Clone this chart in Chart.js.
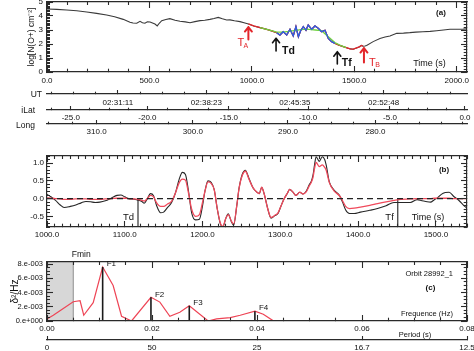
<!DOCTYPE html>
<html><head><meta charset="utf-8">
<script src="https://cdn.jsdelivr.net/npm/chart.js@4.4.1/dist/chart.umd.min.js"></script>
<style>
html,body{margin:0;padding:0;background:#fff;}
#wrap{position:relative;width:474px;height:351px;overflow:hidden;background:#fff;}
canvas{position:absolute;left:0;}
</style></head><body>
<div id="wrap">
<canvas id="ca" width="474" height="150" style="top:0px"></canvas>
<canvas id="cb" width="474" height="95" style="top:150px"></canvas>
<canvas id="cc" width="474" height="106" style="top:245px"></canvas>
</div>
<script>
// ---------------- Panel (a) data ----------------
const timeA = [0,48,96,145,194,242,291,330,372,405,420,438,454,466,478,490,503,515,527,538,549,560,580,600,625,649,675,698,722,747,770,795,815,836,856,877,893,915,942,962,983,1009,1040,1072,1100,1121,1137,1153,1170,1186,1202,1215,1227,1238,1251,1264,1275,1292,1308,1324,1340,1357,1373,1389,1405,1425,1445,1465,1480,1495,1511,1525,1535,1543,1552,1560,1592,1625,1650,1674,1707,1740,1771,1800,1835,1870,1902,1935,1967,2000,2031,2050];
const logNA = [4.50,4.47,4.43,4.37,4.29,4.19,4.07,3.95,3.76,3.55,3.50,3.48,3.62,3.52,3.48,3.58,3.57,3.50,3.43,3.29,3.50,3.67,3.75,3.81,3.70,3.62,3.58,3.52,3.60,3.67,3.70,3.76,3.82,3.90,3.80,3.71,3.72,3.66,3.60,3.52,3.43,3.29,3.17,3.05,2.92,2.81,2.64,2.88,2.64,3.05,2.57,3.24,2.52,2.95,3.24,2.98,3.36,3.05,3.29,3.12,2.88,2.98,2.40,2.17,2.05,1.92,1.82,1.72,1.65,1.63,1.72,1.80,1.90,1.84,1.86,1.90,2.17,2.40,2.50,2.57,2.76,2.78,2.81,2.85,2.88,2.90,2.95,3.00,3.05,3.05,3.06,3.08];
const smoothTimeA = [1040,1072,1100,1121,1150,1180,1215,1250,1280,1310,1340,1373,1405,1438,1460];
const smoothLogNA = [3.17,3.05,2.93,2.85,2.85,2.90,2.97,3.05,3.05,3.00,2.95,2.52,2.10,1.86,1.74];
const eventNamesA = ['T','Td','Tf','T'];
const eventSubsA = ['A','','','B'];
const eventTimesA = [983,1118,1417,1547];
const arrowTipA = [3.21,2.41,1.45,1.71];
const arrowBaseA = [2.32,1.50,0.57,0.68];
const timeTicksA = [0,500,1000,1500,2000];
const timeTickLabelsA = ['0.0','500.0','1000.0','1500.0','2000.0'];
const logTicksA = [0,1,2,3,4,5];
const logTickLabelsA = ['0','1','2','3','4','5'];
const utTickTimes = [346,778,1210,1643];
const utTickLabels = ['02:31:11','02:38:23','02:45:35','02:52:48'];
const ilatTickTimes = [116,490,888,1274,1674,2040];
const ilatTickLabels = ['-25.0','-20.0','-15.0','-10.0','-5.0','0.0'];
const longTickTimes = [242,712,1176,1603];
const longTickLabels = ['310.0','300.0','290.0','280.0'];

// ---------------- Panel (b) data ----------------
const timeB = [1000,1005,1011,1017,1022,1030,1037,1044,1050,1056,1062,1068,1075,1083,1090,1095,1100,1105,1112,1118,1122,1125,1129,1133,1137,1141,1146,1150,1155,1160,1165,1170,1174,1178,1182,1186,1191,1196,1200,1203,1207,1211,1215,1219,1223,1226,1230,1233,1237,1240,1244,1247,1251,1255,1260,1265,1270,1273,1276,1279,1284,1288,1293,1297,1301,1305,1309,1312,1316,1320,1325,1329,1333,1337,1340,1342,1344,1346,1350,1354,1357,1359,1363,1369,1376,1380,1384,1389,1395,1403,1415,1425,1436,1446,1455,1467,1476,1482,1487,1493,1498,1502,1507,1512,1517,1523,1530,1536,1540];
const blackB = [0.12,0.05,-0.05,-0.18,-0.25,-0.22,-0.18,-0.12,-0.08,-0.09,-0.11,-0.10,-0.06,0.02,0.09,0.10,0.05,0.00,-0.02,-0.05,-0.08,-0.13,0.00,0.14,0.08,-0.20,-0.40,-0.38,-0.25,-0.12,0.15,0.55,0.74,0.68,0.20,-0.40,-0.60,-0.58,-0.20,0.20,0.50,0.46,0.25,-0.30,-0.72,-0.80,-0.55,-0.43,-0.65,-0.75,-0.20,0.30,0.68,0.80,0.55,0.30,0.18,0.14,0.32,0.15,-0.30,-0.55,-0.48,-0.42,-0.20,0.00,0.15,0.26,0.19,0.09,0.18,0.13,0.20,0.38,0.50,0.66,0.95,1.18,1.05,1.18,1.10,0.94,0.47,0.24,0.09,-0.10,-0.32,-0.42,-0.42,-0.38,-0.33,-0.28,-0.20,-0.11,-0.11,-0.11,-0.03,-0.06,-0.08,-0.10,-0.03,0.02,0.12,0.17,0.18,0.06,-0.06,-0.20,-0.27];
const redB = [0.02,0.01,0.00,-0.01,-0.02,-0.02,-0.01,-0.01,-0.01,-0.02,-0.02,-0.02,-0.01,0.00,0.01,0.01,0.01,0.00,-0.01,-0.03,-0.05,-0.07,0.00,0.09,0.05,-0.12,-0.22,-0.22,-0.15,-0.08,0.15,0.45,0.55,0.52,0.15,-0.30,-0.50,-0.45,-0.10,0.20,0.47,0.43,0.25,-0.30,-0.70,-0.78,-0.55,-0.45,-0.63,-0.72,-0.20,0.30,0.65,0.77,0.53,0.30,0.18,0.14,0.32,0.15,-0.30,-0.53,-0.47,-0.40,-0.20,0.00,0.15,0.26,0.19,0.09,0.18,0.13,0.18,0.35,0.47,0.60,0.85,1.02,0.90,0.95,0.88,0.80,0.45,0.22,0.08,-0.06,-0.22,-0.28,-0.27,-0.24,-0.19,-0.14,-0.09,-0.05,-0.02,-0.01,0.00,0.00,0.00,0.00,0.01,0.01,0.01,0.01,0.01,0.00,0.00,0.00,0.00];
const markNamesB = ['Td','Tf'];
const markTimesB = [1117,1451];
const timeTicksB = [1000,1100,1200,1300,1400,1500];
const timeTickLabelsB = ['1000.0','1100.0','1200.0','1300.0','1400.0','1500.0'];
const ampTicksB = [-0.5,0,0.5,1.0];
const ampTickLabelsB = ['-0.5','0.0','0.5','1.0'];

// ---------------- Panel (c) data ----------------
const freqC = [0.0000,0.0012,0.0031,0.0050,0.0063,0.0070,0.0088,0.0106,0.0126,0.0142,0.0161,0.0198,0.0215,0.0234,0.0253,0.0271,0.0307,0.0323,0.0349,0.0368,0.0396,0.0412,0.0431,0.0460,0.0500,0.0550,0.0600,0.0650,0.0700,0.0750,0.0800];
const powerC = [0.30e-3,0.81e-3,1.76e-3,2.71e-3,2.85e-3,0.81e-3,2.57e-3,7.60e-3,4.99e-3,0.67e-3,0.00,3.33e-3,2.66e-3,0.67e-3,1.24e-3,2.14e-3,0.00,0.29e-3,0.48e-3,0.81e-3,1.38e-3,0.95e-3,0.02e-3,0.01e-3,0.01e-3,0.02e-3,0.05e-3,0.01e-3,0.02e-3,0.01e-3,0.01e-3];
const peakNamesC = ['F1','F2','F3','F4'];
const peakFreqC = [0.0106,0.0198,0.0271,0.0396];
const peakPowerC = [7.60e-3,3.33e-3,2.14e-3,1.38e-3];
const fminC = 0.005;
const freqTicksC = [0,0.02,0.04,0.06,0.08];
const freqTickLabelsC = ['0.00','0.02','0.04','0.06','0.08'];
const periodTickLabelsC = ['0','50','25','16.7','12.5'];
const powerTicksC = [0,0.002,0.004,0.006,0.008];
const powerTickLabelsC = ['0.e+000','2.e-003','4.e-003','6.e-003','8.e-003'];

// ---------------- helpers ----------------
const FONT = "'Liberation Sans', Arial, Helvetica, sans-serif";
const AX = '#2a2a2a';
const TXT = '#111';
Chart.defaults.font.family = FONT;
Chart.defaults.color = TXT;

function pts(xs, ys) { return xs.map((x, i) => ({x: x, y: ys[i]})); }
function between(xs, ys, a, b) { return pts(xs, ys).filter(p => p.x >= a && p.x <= b); }
function steps(a, b, s) {
  const out = []; const n = Math.floor((b - a) / s + 1e-9);
  for (let k = 0; k <= n; k++) out.push(Math.round((a + k * s) * 1e9) / 1e9);
  return out;
}
function subdivide(majors, n, min, max) {
  const out = [];
  for (let i = 0; i < majors.length - 1; i++) {
    const d = (majors[i + 1] - majors[i]) / n;
    for (let k = 1; k < n; k++) out.push(majors[i] + k * d);
  }
  const d0 = (majors[1] - majors[0]) / n;
  for (let v = majors[0] - d0; v >= min; v -= d0) out.push(v);
  const L = majors.length;
  const d1 = (majors[L - 1] - majors[L - 2]) / n;
  for (let v = majors[L - 1] + d1; v <= max; v += d1) out.push(v);
  return out;
}
function buildTicks(majors, labels, minors, min, max) {
  const list = [];
  const inR = v => v >= min - 1e-12 && v <= max + 1e-12;
  minors.forEach(v => { if (inR(v) && !majors.some(m => Math.abs(m - v) < 1e-9)) list.push({value: v, major: false, lbl: ''}); });
  majors.forEach((v, i) => { if (inR(v)) list.push({value: v, major: true, lbl: labels ? labels[i] : ''}); });
  list.sort((a, b) => a.value - b.value);
  return list;
}
function makeAxis(o) {
  const pos = o.pos;
  const horiz = pos === 'top' || pos === 'bottom';
  const tickList = buildTicks(o.majors || [], o.labels, o.minors || [], o.min, o.max);
  const L = o.L, m = o.m;
  return {
    type: 'linear', axis: horiz ? 'x' : 'y', position: pos, min: o.min, max: o.max, bounds: 'data', weight: o.weight || 0,
    afterBuildTicks: s => { s.ticks = tickList.map(t => ({value: t.value, major: t.major, lbl: t.lbl})); },
    afterFit: s => {
      if (horiz) s.height = o.size; else s.width = o.size;
      s.paddingLeft = 0; s.paddingRight = 0; s.paddingTop = 0; s.paddingBottom = 0;
    },
    grid: {
      display: true, drawOnChartArea: false, drawTicks: true, tickLength: -L, tickWidth: 1.1,
      tickColor: AX, color: AX, lineWidth: 1, z: 1,
      tickBorderDash: ctx => {
        const t = ctx.tick;
        if (!t || t.major) return [];
        return (pos === 'bottom' || pos === 'right') ? [m + 0.5, 400] : [0, L - m, m + 0.5, 400];
      }
    },
    border: {display: true, color: AX, width: 1.2, z: 1},
    ticks: {
      display: !!o.showLabels, autoSkip: false, maxRotation: 0, minRotation: 0,
      padding: o.pad || 0, color: TXT, font: {family: FONT, size: o.fontSize || 8},
      callback: (v, i, ticks) => (ticks[i] && ticks[i].lbl) ? ticks[i].lbl : ''
    },
    title: o.title || {display: false}
  };
}
function txt(ctx, s, x, y, opt) {
  ctx.save();
  ctx.font = opt.font; ctx.fillStyle = opt.color || TXT;
  ctx.textAlign = opt.align || 'left'; ctx.textBaseline = 'middle';
  ctx.fillText(s, x, y);
  ctx.restore();
}
function arrow(ctx, x, yBase, yTip, color, w) {
  ctx.save();
  ctx.strokeStyle = color; ctx.lineWidth = w; ctx.lineCap = 'round'; ctx.lineJoin = 'round';
  ctx.beginPath();
  ctx.moveTo(x, yBase); ctx.lineTo(x, yTip);
  ctx.moveTo(x - 3.5, yTip + 4.5); ctx.lineTo(x, yTip); ctx.lineTo(x + 3.5, yTip + 4.5);
  ctx.stroke();
  ctx.restore();
}
const common = {
  responsive: false, maintainAspectRatio: false, animation: false, devicePixelRatio: 1, events: [],
  elements: {point: {radius: 0}, line: {tension: 0, fill: false}},
};
const noPlug = {legend: {display: false}, tooltip: {enabled: false}};

// ---------------- Chart (a) ----------------
const RED_A = '#e3262b';
const labelDxA = [-11, 6, 4.5, 5];
const labelDyA = [3.5, 0, -0.5, 0];
const eventColorsA = [RED_A, '#111', '#111', RED_A];
new Chart(document.getElementById('ca'), {
  type: 'line',
  data: {datasets: [
    {data: between(timeA, logNA, eventTimesA[1], eventTimesA[2]), borderColor: '#2b5fe6', borderWidth: 1.3, xAxisID: 'x', yAxisID: 'y'},
    {data: pts(smoothTimeA, smoothLogNA), borderColor: '#6fd13f', borderWidth: 1.3, xAxisID: 'x', yAxisID: 'y'},
    {data: between(timeA, logNA, eventTimesA[0], eventTimesA[3]), borderColor: RED_A, borderWidth: 1.3, xAxisID: 'x', yAxisID: 'y'},
    {data: pts(timeA, logNA), borderColor: '#3a3a3a', borderWidth: 1.1, xAxisID: 'x', yAxisID: 'y'}
  ]},
  options: Object.assign({}, common, {
    layout: {padding: {left: 0, top: 2, right: 7, bottom: 12}, autoPadding: false},
    plugins: noPlug,
    scales: {
      x: makeAxis({pos: 'bottom', min: 0, max: 2050, majors: timeTicksA, labels: timeTickLabelsA, minors: steps(0, 2050, 100), L: 6, m: 3, size: 22, showLabels: true, pad: 10, weight: 0}),
      y: makeAxis({pos: 'left', min: 0, max: 5, majors: logTicksA, labels: logTickLabelsA, minors: steps(0, 5, 0.1), L: 6, m: 3, size: 47, showLabels: true, pad: 10,
        title: {display: true, text: 'log[N(O+) cm\u207B\u00B2]', color: TXT, font: {family: FONT, size: 8.5}, padding: {top: 27, bottom: 0}}}),
      x2: makeAxis({pos: 'top', min: 0, max: 2050, majors: timeTicksA, minors: steps(0, 2050, 100), L: 6, m: 3, size: 0}),
      y2: makeAxis({pos: 'right', min: 0, max: 5, majors: logTicksA, minors: steps(0, 5, 0.2), L: 6, m: 3, size: 0}),
      xUT: makeAxis({pos: 'bottom', min: 0, max: 2050, majors: utTickTimes, labels: utTickLabels, minors: subdivide(utTickTimes, 4, 0, 2050), L: 4, m: 2, size: 16, showLabels: true, pad: 8, weight: 1}),
      xLat: makeAxis({pos: 'bottom', min: 0, max: 2050, majors: ilatTickTimes, labels: ilatTickLabels, minors: subdivide(ilatTickTimes, 4, 0, 2050), L: 4, m: 2, size: 14, showLabels: true, pad: 6.5, weight: 2}),
      xLon: makeAxis({pos: 'bottom', min: 0, max: 2050, majors: longTickTimes, labels: longTickLabels, minors: subdivide(longTickTimes, 4, 0, 2050), L: 4, m: 2, size: 14, showLabels: true, pad: 7, weight: 3})
    }
  }),
  plugins: [{id: 'annA', afterDraw(chart) {
    const ctx = chart.ctx, xs = chart.scales.x, ys = chart.scales.y, ca = chart.chartArea;
    eventTimesA.forEach((t, i) => {
      const x = xs.getPixelForValue(t);
      const yb = ys.getPixelForValue(arrowBaseA[i]), yt = ys.getPixelForValue(arrowTipA[i]);
      const col = eventColorsA[i];
      arrow(ctx, x, yb, yt, col, eventSubsA[i] ? 2 : 1.6);
      const lx = x + labelDxA[i], ly = yb + labelDyA[i];
      if (eventSubsA[i]) {
        ctx.save(); ctx.font = '11px ' + FONT; const w = ctx.measureText(eventNamesA[i]).width; ctx.restore();
        txt(ctx, eventNamesA[i], lx, ly, {font: '11px ' + FONT, color: col});
        txt(ctx, eventSubsA[i], lx + w - 0.5, ly + 3, {font: '7px ' + FONT, color: col});
      } else {
        txt(ctx, eventNamesA[i], lx, ly, {font: 'bold 10.5px ' + FONT, color: col});
      }
    });
    txt(ctx, 'Time (s)', ca.right - 37.5, ca.bottom - 8, {font: '9px ' + FONT, align: 'center'});
    txt(ctx, '(a)', ca.right - 26, ca.top + 11, {font: 'bold 8px ' + FONT, align: 'center'});
    txt(ctx, 'UT', ca.left - 5, chart.scales.xUT.top + 0.5, {font: '8.5px ' + FONT, align: 'right'});
    txt(ctx, 'iLat', ca.left - 12, chart.scales.xLat.top + 0.5, {font: '8.5px ' + FONT, align: 'right'});
    txt(ctx, 'Long', ca.left - 12, chart.scales.xLon.top + 2, {font: '8.5px ' + FONT, align: 'right'});
  }}]
});

// ---------------- Chart (b) ----------------
const xMinB = 1000, xMaxB = 1540, yMinB = -0.8, yMaxB = 1.2, zeroB = 0;
const markDatasetsB = markTimesB.map(t => ({data: [{x: t, y: zeroB}, {x: t, y: yMinB}], borderColor: '#222', borderWidth: 1.1, xAxisID: 'x', yAxisID: 'y'}));
new Chart(document.getElementById('cb'), {
  type: 'line',
  data: {datasets: [
    {data: [{x: xMinB, y: zeroB}, {x: xMaxB, y: zeroB}], borderColor: '#222', borderWidth: 1.1, borderDash: [6, 4], xAxisID: 'x', yAxisID: 'y'},
    {data: pts(timeB, redB), borderColor: '#f04a5c', borderWidth: 1.3, cubicInterpolationMode: 'monotone', xAxisID: 'x', yAxisID: 'y'},
    {data: pts(timeB, blackB), borderColor: '#262626', borderWidth: 1.1, cubicInterpolationMode: 'monotone', xAxisID: 'x', yAxisID: 'y'}
  ].concat(markDatasetsB)},
  options: Object.assign({}, common, {
    layout: {padding: {left: 0, top: 6, right: 7, bottom: 6}, autoPadding: false},
    plugins: noPlug,
    scales: {
      x: makeAxis({pos: 'bottom', min: xMinB, max: xMaxB, majors: timeTicksB, labels: timeTickLabelsB, minors: steps(xMinB, xMaxB, 10), L: 6, m: 3, size: 12, showLabels: true, pad: 8.5}),
      y: makeAxis({pos: 'left', min: yMinB, max: yMaxB, majors: ampTicksB, labels: ampTickLabelsB, minors: steps(yMinB, yMaxB, 0.1), L: 6, m: 3, size: 47, showLabels: true, pad: 9}),
      x2: makeAxis({pos: 'top', min: xMinB, max: xMaxB, majors: timeTicksB, minors: steps(xMinB, xMaxB, 10), L: 6, m: 3, size: 0}),
      y2: makeAxis({pos: 'right', min: yMinB, max: yMaxB, majors: ampTicksB, minors: steps(yMinB, yMaxB, 0.1), L: 6, m: 3, size: 0})
    }
  }),
  plugins: [{id: 'annB', afterDraw(chart) {
    const ctx = chart.ctx, xs = chart.scales.x, ca = chart.chartArea;
    markTimesB.forEach((t, i) => txt(ctx, markNamesB[i], xs.getPixelForValue(t) - 4, ca.bottom - 9.5, {font: '9.5px ' + FONT, align: 'right'}));
    txt(ctx, 'Time (s)', ca.right - 39, ca.bottom - 9, {font: '9px ' + FONT, align: 'center'});
    txt(ctx, '(b)', ca.right - 23, ca.top + 14, {font: 'bold 8px ' + FONT, align: 'center'});
  }}]
});

// ---------------- Chart (c) ----------------
const xMinC = 0, xMaxC = 0.08, yMinC = 0, yMaxC = 8.3e-3;
const peakDatasetsC = peakFreqC.map((f, i) => ({data: [{x: f, y: 0}, {x: f, y: peakPowerC[i]}], borderColor: '#1a1a1a', borderWidth: 1.6, xAxisID: 'x', yAxisID: 'y'}));
new Chart(document.getElementById('cc'), {
  type: 'line',
  data: {datasets: peakDatasetsC.concat([
    {data: pts(freqC, powerC), borderColor: '#ee4455', borderWidth: 1.2, xAxisID: 'x', yAxisID: 'y'},
    {data: [{x: fminC, y: yMinC}, {x: fminC, y: yMaxC}], borderColor: '#8c8c8c', borderWidth: 1, xAxisID: 'x', yAxisID: 'y'},
    {data: [{x: xMinC, y: yMaxC}, {x: fminC, y: yMaxC}], borderWidth: 0, borderColor: 'rgba(0,0,0,0)', backgroundColor: '#d7d7d7', fill: 'origin', xAxisID: 'x', yAxisID: 'y'}
  ])},
  options: Object.assign({}, common, {
    layout: {padding: {left: 0, top: 17, right: 7, bottom: 0}, autoPadding: false},
    plugins: noPlug,
    scales: {
      x: makeAxis({pos: 'bottom', min: xMinC, max: xMaxC, majors: freqTicksC, labels: freqTickLabelsC, minors: steps(xMinC, xMaxC, 0.005), L: 6, m: 3, size: 19, showLabels: true, pad: 9.2, weight: 0}),
      y: makeAxis({pos: 'left', min: yMinC, max: yMaxC, majors: powerTicksC, labels: powerTickLabelsC, minors: steps(yMinC, 0.008, 0.0005), L: 6, m: 3, size: 47, showLabels: true, pad: 10, fontSize: 7.5,
        title: {display: true, text: '\u03B4\u00B2/Hz', color: TXT, font: {family: FONT, size: 10}, padding: {top: 9, bottom: 0}}}),
      x2: makeAxis({pos: 'top', min: xMinC, max: xMaxC, majors: freqTicksC, minors: steps(xMinC, xMaxC, 0.005), L: 6, m: 3, size: 0}),
      y2: makeAxis({pos: 'right', min: yMinC, max: yMaxC, majors: powerTicksC, minors: steps(yMinC, 0.008, 0.0005), L: 6, m: 3, size: 0}),
      xP: makeAxis({pos: 'bottom', min: xMinC, max: xMaxC, majors: freqTicksC, labels: periodTickLabelsC, minors: [], L: 4, m: 2, size: 11, showLabels: true, pad: 6.9, weight: 1})
    }
  }),
  plugins: [{id: 'annC', afterDraw(chart) {
    const ctx = chart.ctx, xs = chart.scales.x, ys = chart.scales.y, ca = chart.chartArea;
    peakFreqC.forEach((f, i) => txt(ctx, peakNamesC[i], xs.getPixelForValue(f) + 4, ys.getPixelForValue(peakPowerC[i]) - 3, {font: '8px ' + FONT}));
    txt(ctx, 'Fmin', xs.getPixelForValue(fminC) - 1.5, ca.top - 7, {font: '8.5px ' + FONT});
    txt(ctx, 'Orbit 28992_1', ca.right - 14, ca.top + 12, {font: '7.5px ' + FONT, align: 'right'});
    txt(ctx, '(c)', ca.right - 36.5, ca.top + 25.5, {font: 'bold 8px ' + FONT, align: 'center'});
    txt(ctx, 'Frequence (Hz)', ca.right - 14, ca.bottom - 7.5, {font: '7.5px ' + FONT, align: 'right'});
    txt(ctx, 'Period (s)', ca.right - 52, ca.bottom + 13.5, {font: '7.5px ' + FONT, align: 'center'});
  }}]
});
</script>
</body></html>
